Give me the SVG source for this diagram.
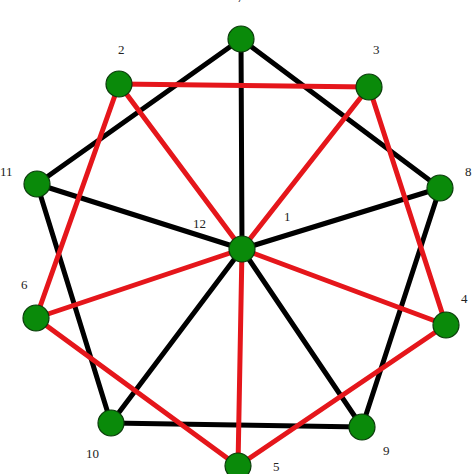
<svg xmlns="http://www.w3.org/2000/svg" width="474" height="474" viewBox="0 0 474 474">
<style>
.b{stroke:#000;stroke-width:5;stroke-linecap:round}
.r{stroke:#e5161b;stroke-width:5;stroke-linecap:round}
.n{fill:#0a8a0a;stroke:#0b3b0b;stroke-width:1.2}
text{font-family:"Liberation Serif","DejaVu Serif",serif;font-size:13px;fill:#222}
</style>
<rect width="474" height="474" fill="#fff"/>
<g id="connectors">
<line class="b" x1="241" y1="39" x2="37" y2="184"/>
<line class="b" x1="241" y1="39" x2="440" y2="188"/>
<line class="b" x1="241" y1="39" x2="242" y2="249"/>
<line class="b" x1="37" y1="184" x2="242" y2="249"/>
<line class="b" x1="440" y1="188" x2="242" y2="249"/>
<line class="b" x1="37" y1="184" x2="111" y2="423"/>
<line class="b" x1="440" y1="188" x2="362" y2="427"/>
<line class="b" x1="111" y1="423" x2="362" y2="427"/>
<line class="b" x1="242" y1="249" x2="111" y2="423"/>
<line class="b" x1="242" y1="249" x2="362" y2="427"/>
<line class="r" x1="119" y1="84" x2="369" y2="87"/>
<line class="r" x1="119" y1="84" x2="36" y2="318"/>
<line class="r" x1="119" y1="84" x2="242" y2="249"/>
<line class="r" x1="369" y1="87" x2="242" y2="249"/>
<line class="r" x1="369" y1="87" x2="446" y2="325"/>
<line class="r" x1="36" y1="318" x2="242" y2="249"/>
<line class="r" x1="446" y1="325" x2="242" y2="249"/>
<line class="r" x1="36" y1="318" x2="238" y2="466"/>
<line class="r" x1="446" y1="325" x2="238" y2="466"/>
<line class="r" x1="242" y1="249" x2="238" y2="466"/>
</g>
<g id="n7"><circle class="n" cx="241" cy="39" r="13"/><text x="237" y="2">7</text></g>
<g id="n2"><circle class="n" cx="119" cy="84" r="13"/><text x="118" y="54">2</text></g>
<g id="n3"><circle class="n" cx="369" cy="87" r="13"/><text x="373" y="54">3</text></g>
<g id="n11"><circle class="n" cx="37" cy="184" r="13"/><text x="0" y="176">11</text></g>
<g id="n8"><circle class="n" cx="440" cy="188" r="13"/><text x="465" y="176">8</text></g>
<g id="n1"><circle class="n" cx="242" cy="249" r="13"/><text x="284" y="221">1</text></g>
<g id="n12"><text x="193" y="228">12</text></g>
<g id="n6"><circle class="n" cx="36" cy="318" r="13"/><text x="21" y="289">6</text></g>
<g id="n4"><circle class="n" cx="446" cy="325" r="13"/><text x="461" y="303">4</text></g>
<g id="n10"><circle class="n" cx="111" cy="423" r="13"/><text x="86" y="458">10</text></g>
<g id="n5"><circle class="n" cx="238" cy="466" r="13"/><text x="273" y="471">5</text></g>
<g id="n9"><circle class="n" cx="362" cy="427" r="13"/><text x="383" y="455">9</text></g>
</svg>
